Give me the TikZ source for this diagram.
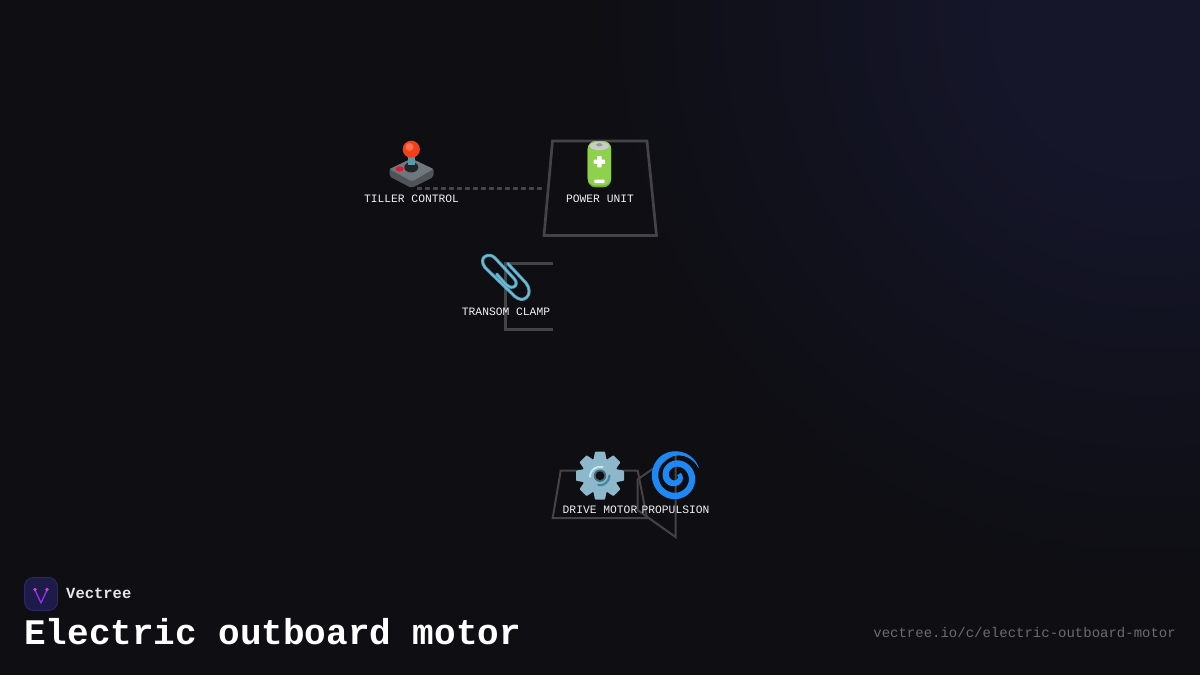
\documentclass[tikz,border=0pt]{standalone}
\usepackage{fontspec}
\setmainfont{Liberation Mono}
\usetikzlibrary{calc}
\definecolor{bgc}{HTML}{0E0E13}
\definecolor{glowc}{HTML}{15162A}
\definecolor{edgec}{HTML}{444447}
\definecolor{labelc}{HTML}{F2F2F2}
\definecolor{clipc}{HTML}{4E9DB8}
\definecolor{clipl}{HTML}{7CBFD4}
\definecolor{gearc}{HTML}{8DB7CA}
\definecolor{spiralc}{HTML}{1E88F5}
\definecolor{battc}{HTML}{8FD04C}
\pgfdeclareradialshading{glowshade}{\pgfpoint{0bp}{0bp}}{color(0bp)=(glowc); color(6bp)=(glowc); color(25bp)=(bgc); color(50bp)=(bgc)}
\tikzset{
  shapeline/.style={draw=edgec,line width=2.7pt,line join=miter},
  thinline/.style={draw=edgec,line width=2pt,line join=miter},
  linkline/.style={draw=edgec,line width=3pt,dash pattern=on 5pt off 3pt},
  nodelabel/.style={text=labelc,inner sep=0pt,anchor=base,font=\fontsize{11.3}{13}\selectfont},
}
\begin{document}
\begin{tikzpicture}[x=1pt,y=-1pt,
  declare function={spr(\t)=24.5-\t*0.0285+2.7*exp(-0.5*((\t-270)/60)^2); spw(\t)=min(6.4,0.6+\t*0.055)*(1-0.3*max(0,\t-560)/200);}]
\useasboundingbox (0,0) rectangle (1200,675);
\fill[bgc] (0,0) rectangle (1200,675);
\begin{scope}
  \clip (0,0) rectangle (1200,675);
  \shade[shading=glowshade] (1150,20) circle (560);
\end{scope}

% shapes behind the icons
\draw[shapeline] (552.5,141) -- (647,141) -- (656.5,235.5) -- (544,235.5) -- cycle;
\draw[shapeline] (553,263.5) -- (505.5,263.5) -- (505.5,329.5) -- (553,329.5);
\draw[thinline] (560.7,470.7) -- (637.7,470.7) -- (647,518) -- (552.7,518) -- cycle;
\draw[thinline] (637.5,479.5) -- (675.5,453) -- (675.5,537) -- (637.5,510) -- cycle;

% connector
\coordinate (tillerport) at (417,188);
\coordinate (powerport) at (545,188);
\draw[linkline] (tillerport) -- (powerport);

% joystick
\begin{scope}
  \fill[rounded corners=2pt,color={rgb,255:red,78;green,84;blue,88}] (389.5,168) -- (389.5,176.5) -- (411.5,188) -- (433.5,177) -- (433.5,168) -- cycle;
  \fill[rounded corners=2pt,color={rgb,255:red,112;green,119;blue,124}] (389.5,169) -- (411.5,158.5) -- (433.5,169) -- (412,181.5) -- cycle;
  \fill[color={rgb,255:red,36;green,36;blue,38}] (411.3,167.3) ellipse (7 and 5.2);
  \fill[color={rgb,255:red,90;green,152;blue,170}] (407.8,156) rectangle (414.8,165);
  \fill[color={rgb,255:red,232;green,25;blue,44}] (399.7,169) ellipse (4 and 2.6);
  \fill[color={rgb,255:red,244;green,62;blue,28}] (411.3,149.3) circle (8.6);
  \fill[color={rgb,255:red,255;green,110;blue,75}] (409.5,147) circle (4);
\end{scope}

% battery
\begin{scope}
  \fill[rounded corners=8pt,color={rgb,255:red,112;green,172;blue,52}] (587.7,141) rectangle (611.2,187.4);
  \fill[rounded corners=8pt,color=battc] (587.7,141) rectangle (611.2,185.6);
  \fill[color={rgb,255:red,200;green,205;blue,200}] (599.4,146) ellipse (9.8 and 4.2);
  \fill[color={rgb,255:red,150;green,155;blue,150}] (599.4,144.8) ellipse (3.2 and 1.7);
  \fill[white,rounded corners=0.6pt] (597.2,156) rectangle (601.6,167.4);
  \fill[white,rounded corners=0.6pt] (593.7,159.5) rectangle (605.1,163.9);
  \fill[white,rounded corners=0.6pt] (594.3,179.6) rectangle (604.5,183);
\end{scope}

% paperclip
\begin{scope}[line cap=round,line join=round]
  \def\clippath{(507.7,263.5) -- (526,283) .. controls (530,288) and (530,294) .. (527,297) .. controls (524,300.5) and (519,300) .. (515,296.5) -- (485,267.5) .. controls (481.5,263) and (482,258) .. (485,256.5) .. controls (488.5,254.5) and (492,255) .. (495,258) -- (514,278.5) .. controls (517.5,282) and (516.5,286) .. (513.5,287) .. controls (510.5,288) and (507.5,286) .. (505,283.5) -- (496.7,274)}
  \draw[clipc,line width=3.2pt] \clippath;
  \draw[clipl,line width=1.2pt] \clippath;
\end{scope}

% gear
\begin{scope}[shift={(600,475.7)}]
  \fill[gearc] (0,0) circle (18);
  \foreach \a in {0,45,...,315}{
    \fill[gearc,rotate=\a,rounded corners=0.8pt] (-6.5,-16) -- (-5,-24) -- (5,-24) -- (6.5,-16) -- cycle;
  }
  \draw[color={rgb,255:red,195;green,232;blue,240},line width=2pt,line cap=round] (-10,1) arc[start angle=180,end angle=285,radius=10];
  \draw[color={rgb,255:red,70;green,135;blue,160},line width=2.2pt,line cap=round] (9.5,0) arc[start angle=0,end angle=100,radius=9.5];
  \fill[color={rgb,255:red,70;green,105;blue,120}] (0,0) circle (6.2);
  \fill[bgc] (0,0) circle (4.4);
\end{scope}

% spiral
\fill[spiralc] plot[domain=0:730,samples=180] ({675.5+(spr(\x)+spw(\x)/2)*cos(\x+20)},{476-(spr(\x)+spw(\x)/2)*sin(\x+20)})
  -- plot[domain=730:0,samples=180] ({675.5+(spr(\x)-spw(\x)/2)*cos(\x+20)},{476-(spr(\x)-spw(\x)/2)*sin(\x+20)}) -- cycle;

% labels
\node[nodelabel] (tiller) at (411.5,202) {TILLER CONTROL};
\node[nodelabel] (power) at (600,202) {POWER UNIT};
\node[nodelabel] (clamp) at (506,315) {TRANSOM CLAMP};
\node[nodelabel] (motor) at (600,513) {DRIVE MOTOR};
\node[nodelabel] (prop) at (675.5,513) {PROPULSION};

% brand
\fill[color={rgb,255:red,30;green,27;blue,75},draw={rgb,255:red,44;green,40;blue,100},line width=1pt,rounded corners=9pt] (24.5,577.5) rectangle (57.5,610.5);
\draw[color={rgb,255:red,147;green,51;blue,234},line width=1.3pt,line join=round] (35,590) -- (41,603) -- (47,590);
\fill[color={rgb,255:red,192;green,70;blue,216}] (35,589.5) circle (1.8) (47,589.5) circle (1.8);
\node[anchor=base west,inner sep=0pt,text={rgb,255:red,230;green,230;blue,230},font=\fontsize{15.5}{18}\selectfont\bfseries] (brand) at (66,598.5) {Vectree};
\node[anchor=base west,inner sep=0pt,text=white,font=\fontsize{36}{40}\selectfont\bfseries] (title) at (24,644) {Electric outboard motor};
\node[anchor=base east,inner sep=0pt,text={rgb,255:red,108;green,108;blue,112},font=\fontsize{14}{16}\selectfont] (url) at (1176,637) {vectree.io/c/electric-outboard-motor};
\end{tikzpicture}
\end{document}
